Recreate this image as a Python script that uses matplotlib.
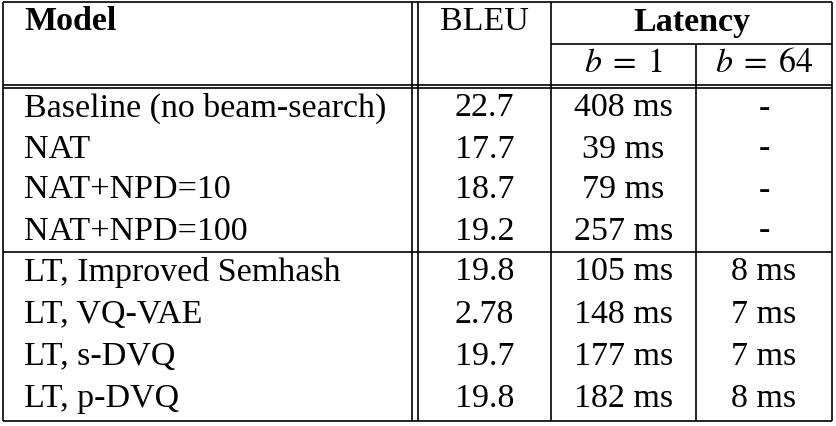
import matplotlib.pyplot as plt

models = ["Baseline (no beam-search)", "NAT", "NAT+NPD=10", "NAT+NPD=100",
          "LT, Improved Semhash", "LT, VQ-VAE", "LT, s-DVQ", "LT, p-DVQ"]
bleu = ["22.7", "17.7", "18.7", "19.2", "19.8", "2.78", "19.7", "19.8"]
lat_b1 = ["408 ms", "39 ms", "79 ms", "257 ms", "105 ms", "148 ms", "177 ms", "182 ms"]
lat_b64 = ["-", "-", "-", "-", "8 ms", "7 ms", "7 ms", "8 ms"]

plt.rcParams["font.family"] = ["Liberation Serif", "DejaVu Serif"]
plt.rcParams["mathtext.fontset"] = "stix"

W, H = 836, 426
fig = plt.figure(figsize=(W / 100, H / 100), dpi=100)
ax = fig.add_axes([0, 0, 1, 1])
ax.set_xlim(0, W)
ax.set_ylim(H, 0)
ax.axis("off")

lw = 1.2
fs = 24.5

# column / row edges (pixels)
x_left, x_m1, x_m2, x_bleu, x_b1, x_right = 3, 412, 418, 551, 696, 832
y_top, y_h1, y_d1, y_d2, y_sep, y_bot = 2, 44, 85, 88, 252, 421

def hline(y, x0=x_left, x1=x_right):
    ax.plot([x0, x1], [y, y], color="black", lw=lw, solid_capstyle="butt")

def vline(x, y0=y_top, y1=y_bot):
    ax.plot([x, x], [y0, y1], color="black", lw=lw, solid_capstyle="butt")

hline(y_top)
hline(y_h1, x_bleu, x_right)
hline(y_d1)
hline(y_d2)
hline(y_sep)
hline(y_bot)
for x in (x_left, x_m1, x_m2, x_bleu, x_right):
    vline(x)
vline(x_b1, y_h1, y_bot)

c_bleu = (x_m2 + x_bleu) / 2
c_b1 = (x_bleu + x_b1) / 2
c_b64 = (x_b1 + x_right) / 2
x_text = 24
off = 28.5

# header
base = y_top + off
ax.text(x_text, base, "Model", fontsize=fs, fontweight="bold", va="baseline", ha="left")
ax.text(c_bleu, base, "BLEU", fontsize=fs, va="baseline", ha="center")
ax.text((x_bleu + x_right) / 2, base, "Latency", fontsize=fs, fontweight="bold",
        va="baseline", ha="center")
base2 = y_h1 + off
ax.text(c_b1, base2, r"$b\;=\;1$", fontsize=fs, va="baseline", ha="center")
ax.text(c_b64, base2, r"$b\;=\;64$", fontsize=fs, va="baseline", ha="center")

# body rows
row_h = (y_sep - y_d2) / 4
row_h2 = (y_bot - y_sep) / 4
for i, m in enumerate(models):
    if i < 4:
        top = y_d2 + i * row_h
    else:
        top = y_sep + (i - 4) * row_h2
    b = top + off
    ax.text(x_text, b, m, fontsize=fs, va="baseline", ha="left")
    ax.text(c_bleu, b, bleu[i], fontsize=fs, va="baseline", ha="center")
    ax.text(c_b1, b, lat_b1[i], fontsize=fs, va="baseline", ha="center")
    ax.text(c_b64, b, lat_b64[i], fontsize=fs, va="baseline", ha="center")

fig.savefig("out.png", dpi=100)
